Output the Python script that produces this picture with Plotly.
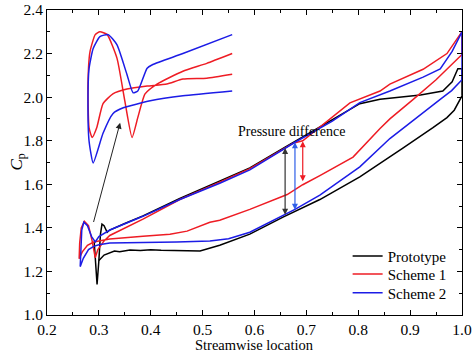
import plotly.graph_objects as go

# ---------------- data ----------------
# Prototype (black)
proto_upper_x = [0.291, 0.2965, 0.300, 0.303, 0.306, 0.310, 0.316, 0.321, 0.35, 0.385, 0.456, 0.533, 0.591, 0.659, 0.70,
                 0.765, 0.803, 0.842, 0.861, 0.92, 0.963, 0.972, 0.981, 0.992, 1.0]
proto_upper_y = [1.335, 1.14, 1.25, 1.37, 1.417, 1.41, 1.38, 1.39, 1.42, 1.455, 1.535, 1.615, 1.675, 1.77, 1.826,
                 1.915, 1.97, 1.99, 1.995, 2.01, 2.028, 2.05, 2.07, 2.13, 2.13]
proto_lower_x = [0.300, 0.31, 0.321, 0.33, 0.34, 0.36, 0.38, 0.40, 0.42, 0.45, 0.495, 0.533, 0.591, 0.655, 0.726,
                 0.803, 0.886, 0.944, 0.971, 0.985, 1.0]
proto_lower_y = [1.25, 1.275, 1.285, 1.294, 1.29, 1.298, 1.296, 1.30, 1.297, 1.295, 1.294, 1.32, 1.371, 1.449, 1.53,
                 1.634, 1.766, 1.86, 1.906, 1.94, 2.006]

# Scheme 1 (red)
s1_upper_x = [0.262, 0.263, 0.266, 0.272, 0.28, 0.287, 0.293, 0.298, 0.31, 0.321, 0.385, 0.456, 0.533, 0.591, 0.674,
              0.693, 0.784, 0.842, 0.861, 0.925, 0.971, 1.0]
s1_upper_y = [1.258, 1.33, 1.40, 1.43, 1.41, 1.34, 1.263, 1.30, 1.34, 1.365, 1.44, 1.53, 1.61, 1.672, 1.788,
              1.80, 1.974, 2.028, 2.06, 2.128, 2.20, 2.30]
s1_lower_x = [0.262, 0.268, 0.278, 0.29, 0.30, 0.321, 0.385, 0.437, 0.47, 0.514, 0.533, 0.591, 0.663, 0.693, 0.726,
              0.79, 0.842, 0.861, 0.906, 0.95, 1.0]
s1_lower_y = [1.258, 1.29, 1.32, 1.335, 1.34, 1.349, 1.362, 1.371, 1.385, 1.426, 1.435, 1.485, 1.553, 1.598, 1.64,
              1.725, 1.856, 1.90, 1.99, 2.08, 2.196]

# Scheme 2 (blue)
s2_upper_x = [0.264, 0.265, 0.267, 0.271, 0.278, 0.286, 0.293, 0.30, 0.321, 0.385, 0.456, 0.533, 0.591, 0.678, 0.75,
              0.803, 0.842, 0.861, 0.925, 0.958, 0.981, 1.0]
s2_upper_y = [1.222, 1.30, 1.39, 1.426, 1.41, 1.36, 1.335, 1.36, 1.39, 1.453, 1.53, 1.605, 1.666, 1.793, 1.89,
              1.975, 2.01, 2.028, 2.092, 2.13, 2.21, 2.30]
s2_lower_x = [0.264, 0.27, 0.28, 0.29, 0.30, 0.321, 0.385, 0.45, 0.514, 0.55, 0.591, 0.678, 0.726, 0.803, 0.861,
              0.894, 0.925, 0.958, 0.98, 1.0]
s2_lower_y = [1.222, 1.26, 1.30, 1.315, 1.322, 1.33, 1.333, 1.335, 1.34, 1.35, 1.38, 1.485, 1.55, 1.68, 1.81,
              1.87, 1.93, 1.99, 2.03, 2.08]

# Inset (magnified leading edge), drawn in main-axis units
inset_s1_x = [0.557, 0.508, 0.462, 0.431, 0.393, 0.354, 0.327, 0.308, 0.296, 0.287, 0.281, 0.279, 0.283, 0.293,
              0.302, 0.316, 0.335, 0.350, 0.364, 0.375, 0.389, 0.412, 0.462, 0.508, 0.557]
inset_s1_y = [2.105, 2.087, 2.083, 2.06, 2.051, 2.037, 2.015, 1.97, 1.861, 1.815, 1.86, 2.06, 2.21, 2.287,
              2.30, 2.287, 2.178, 1.983, 1.815, 1.906, 2.015, 2.06, 2.119, 2.155, 2.20]
inset_s2_x = [0.557, 0.462, 0.399, 0.347, 0.327, 0.308, 0.289, 0.281, 0.279, 0.281, 0.289, 0.302, 0.318, 0.335,
              0.354, 0.366, 0.375, 0.393, 0.404, 0.462, 0.557]
inset_s2_y = [2.028, 2.006, 1.983, 1.951, 1.924, 1.834, 1.698, 1.80, 1.983, 2.13, 2.223, 2.278, 2.287, 2.24,
              2.105, 2.02, 2.028, 2.133, 2.15, 2.20, 2.287]

series_names = ["Prototype", "Scheme 1", "Scheme 2"]
colors = ["#000000", "#ee1c24", "#1c1ce6"]

# pressure difference arrows: x, top, bottom
dp_x = [0.659, 0.678, 0.693]
dp_top = [1.766, 1.793, 1.797]
dp_bot = [1.453, 1.476, 1.607]
dp_colors = ["#333333", "#2f5fe8", "#ee1c24"]

x_title = "Streamwise location"
y_title = "<i>C</i><sub>p</sub>"
note_text = "Pressure difference"

FONT = "Liberation Serif"

fig = go.Figure()


def loop(ux, uy, lx, ly):
    # lower surface from TE to LE, then upper surface from LE to TE, closed at TE
    xs = list(reversed(lx)) + list(ux)
    ys = list(reversed(ly)) + list(uy)
    xs.append(lx[-1])
    ys.append(ly[-1])
    return xs, ys


# Prototype: two pieces (V + upper, lower branching from the V)
px_ = list(reversed(proto_lower_x)) + [None] + proto_upper_x + [proto_lower_x[-1]]
py_ = list(reversed(proto_lower_y)) + [None] + proto_upper_y + [proto_lower_y[-1]]
fig.add_trace(go.Scatter(x=px_, y=py_, mode="lines", name=series_names[0], legend="legend",
                         line=dict(color=colors[0], width=1.5), connectgaps=False))

x1, y1 = loop(s1_upper_x, s1_upper_y, s1_lower_x, s1_lower_y)
fig.add_trace(go.Scatter(x=x1, y=y1, mode="lines", name=series_names[1], legend="legend2",
                         line=dict(color=colors[1], width=1.5)))
x2, y2 = loop(s2_upper_x, s2_upper_y, s2_lower_x, s2_lower_y)
fig.add_trace(go.Scatter(x=x2, y=y2, mode="lines", name=series_names[2], legend="legend3",
                         line=dict(color=colors[2], width=1.5)))

fig.add_trace(go.Scatter(x=inset_s1_x, y=inset_s1_y, mode="lines", showlegend=False,
                         line=dict(color=colors[1], width=1.5, shape="spline", smoothing=0.5)))
fig.add_trace(go.Scatter(x=inset_s2_x, y=inset_s2_y, mode="lines", showlegend=False,
                         line=dict(color=colors[2], width=1.5, shape="spline", smoothing=0.5)))

# arrow pointing to the inset
fig.add_annotation(x=0.341, y=1.883, ax=0.289, ay=1.42, xref="x", yref="y", axref="x", ayref="y",
                   showarrow=True, arrowhead=2, arrowsize=1.2, arrowwidth=1, arrowcolor="#222222", text="")

for xv, t, b, c in zip(dp_x, dp_top, dp_bot, dp_colors):
    fig.add_annotation(x=xv, y=t, ax=xv, ay=b, xref="x", yref="y", axref="x", ayref="y",
                       showarrow=True, arrowhead=2, startarrowhead=2, arrowside="end+start",
                       arrowsize=1, startarrowsize=1, arrowwidth=1.2, arrowcolor=c, text="")

fig.add_annotation(x=0.672, y=1.843, xref="x", yref="y", text=note_text, showarrow=False,
                   font=dict(family=FONT, size=14, color="black"))

# axis titles as annotations (fixed positions, plot height = 305 px)
fig.add_annotation(x=0.5, y=-0.098, xref="paper", yref="paper", text=x_title, showarrow=False,
                   xanchor="center", yanchor="middle", font=dict(family=FONT, size=14.5, color="black"))
fig.add_annotation(x=-0.072, y=0.5, xref="paper", yref="paper", text=y_title, showarrow=False,
                   textangle=-90, xanchor="center", yanchor="middle",
                   font=dict(family=FONT, size=17, color="black"))

axis_common = dict(showline=True, linecolor="black", linewidth=1, mirror="allticks", ticks="inside",
                   ticklen=5, tickwidth=1, tickcolor="black", showgrid=False, zeroline=False,
                   automargin=False, ticklabeloverflow="allow",
                   tickfont=dict(family=FONT, size=15.5, color="black"))

fig.update_xaxes(range=[0.2, 1.0], dtick=0.1, tick0=0.2, tickformat=".1f",
                 minor=dict(ticks="inside", ticklen=3, dtick=0.05, tickcolor="black", showgrid=False),
                 **axis_common)
fig.update_yaxes(range=[1.0, 2.4], dtick=0.2, tick0=1.0, tickformat=".1f",
                 minor=dict(ticks="inside", ticklen=3, dtick=0.1, tickcolor="black", showgrid=False),
                 **axis_common)

leg_common = dict(x=0.975, xanchor="right", yanchor="middle", bgcolor="rgba(0,0,0,0)",
                  font=dict(family=FONT, size=15, color="black"), itemwidth=30)
fig.update_layout(
    width=474, height=353,
    margin=dict(l=47, r=12, t=10, b=38),
    plot_bgcolor="white", paper_bgcolor="white",
    font=dict(family=FONT, size=15, color="black"),
    legend=dict(y=0.193, **leg_common),
    legend2=dict(y=0.134, **leg_common),
    legend3=dict(y=0.072, **leg_common),
    showlegend=True,
)

fig.write_html("out.html")
